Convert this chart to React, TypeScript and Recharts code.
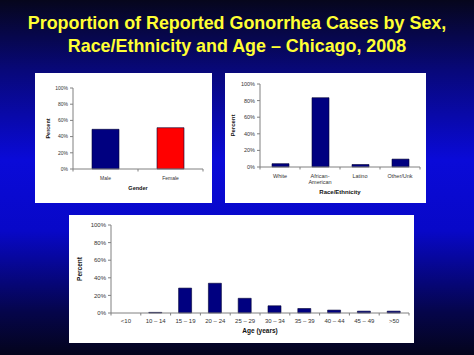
import React from 'react'
import { BarChart, Bar, XAxis, YAxis, Cell } from 'recharts'

const genderCats = ['Male', 'Female']
const genderPct = [49, 51]
const genderColors = ['#000080', '#ff0000']

const raceCats = ['White', 'African-American', 'Latino', 'Other/Unk']
const racePct = [4, 83.5, 3, 9.5]

const ageCats = ['<10', '10 – 14', '15 – 19', '20 – 24', '25 – 29', '30 – 34', '35 – 39', '40 – 44', '45 – 49', '>50']
const agePct = [0, 0.7, 28.3, 33.8, 16.7, 8.2, 5.1, 3.3, 2.1, 2.1]

const pctTicks = [0, 20, 40, 60, 80, 100]

const FONT = '"Liberation Sans", Arial, sans-serif'

interface PanelProps {
  cats: string[]
  values: number[]
  colors?: string[]
  x: number
  y: number
  w: number
  h: number
  top: number
  right: number
  bottom: number
  yWidth: number
  fontSize: number
  barSize: number
  xTitle: string
  xTitleDy: number
  tickDy: number
  yTitleX: number
}

// category label, plus Excel-style tick marks on the category boundaries
function MultiTick(props: any) {
  const { x, y, payload, fontSize, dy, step, index, count } = props
  const label: string = payload.value
  const lines = label.includes('-') && !label.includes(' ')
    ? [label.slice(0, label.indexOf('-') + 1), label.slice(label.indexOf('-') + 1)]
    : [label]
  const axisY = y - 8
  return (
    <g>
      <line x1={x - step / 2} x2={x - step / 2} y1={axisY} y2={axisY + 2.5} stroke="#808080" strokeWidth={1} />
      {index === count - 1 && (
        <line x1={x + step / 2} x2={x + step / 2} y1={axisY} y2={axisY + 2.5} stroke="#808080" strokeWidth={1} />
      )}
      <text x={x} y={y + dy} textAnchor="middle" fontSize={fontSize} fill="#333" fontFamily={FONT}>
        {lines.map((l, i) => (
          <tspan key={i} x={x} dy={i === 0 ? 0 : fontSize * 1.15}>{l}</tspan>
        ))}
      </text>
    </g>
  )
}

function Panel(p: PanelProps) {
  const data = p.cats.map((c, i) => ({ cat: c, pct: p.values[i] }))
  const plotBottom = p.h - p.bottom
  const midY = (p.top + plotBottom) / 2
  const step = (p.w - p.yWidth - p.right) / p.cats.length
  return (
    <div style={{ position: 'absolute', left: p.x, top: p.y, width: p.w, height: p.h, background: '#fff' }}>
      <BarChart width={p.w} height={p.h} data={data} margin={{ top: p.top, right: p.right, bottom: 0, left: 0 }} barSize={p.barSize}>
        <XAxis
          dataKey="cat"
          axisLine={{ stroke: '#808080' }}
          tickLine={false}
          interval={0}
          tick={<MultiTick fontSize={p.fontSize} dy={p.tickDy} step={step} count={p.cats.length} />}
          height={p.bottom}
        />
        <YAxis
          domain={[0, 100]}
          ticks={pctTicks}
          interval={0}
          tickFormatter={(v: number) => v + '%'}
          width={p.yWidth}
          axisLine={{ stroke: '#808080' }}
          tickLine={{ stroke: '#808080' }}
          tickSize={3}
          tick={{ fontSize: p.fontSize, fill: '#333', fontFamily: FONT }}
        />
        <Bar dataKey="pct" fill="#000080" stroke="#000033" strokeWidth={0.6} isAnimationActive={false}>
          {data.map((_, i) => (
            <Cell key={i} fill={p.colors ? p.colors[i] : '#000080'} />
          ))}
        </Bar>
        <text
          x={p.yTitleX}
          y={midY}
          transform={`rotate(-90 ${p.yTitleX} ${midY})`}
          textAnchor="middle"
          fontSize={p.fontSize + 0.5}
          fontWeight="bold"
          fill="#111"
          fontFamily={FONT}
        >
          Percent
        </text>
        <text
          x={p.yWidth + (p.w - p.yWidth - p.right) / 2}
          y={plotBottom + p.xTitleDy}
          textAnchor="middle"
          fontSize={p.fontSize + 0.5}
          fontWeight="bold"
          fill="#111"
          fontFamily={FONT}
        >
          {p.xTitle}
        </text>
      </BarChart>
    </div>
  )
}

export default function App() {
  return (
    <div
      style={{
        position: 'absolute',
        left: 0,
        top: 0,
        width: 474,
        height: 355,
        overflow: 'hidden',
        background: 'linear-gradient(180deg, #06061c 0%, #08087a 20%, #0a0ad8 45%, #0808c8 65%, #05054a 88%, #04041c 100%)',
        fontFamily: FONT,
      }}
    >
      <div
        style={{
          position: 'absolute',
          left: 0,
          top: 12,
          width: 474,
          textAlign: 'center',
          color: '#ffff33',
          fontWeight: 'bold',
          fontSize: 17.9,
          lineHeight: '23px',
        }}
      >
        Proportion of Reported Gonorrhea Cases by Sex,
        <br />
        Race/Ethnicity and Age – Chicago, 2008
      </div>
      <Panel
        cats={genderCats}
        values={genderPct}
        colors={genderColors}
        x={35}
        y={73}
        w={177}
        h={130}
        top={15}
        right={9}
        bottom={34}
        yWidth={38}
        fontSize={5}
        barSize={27}
        xTitle="Gender"
        xTitleDy={21}
        tickDy={3}
        yTitleX={15}
      />
      <Panel
        cats={raceCats}
        values={racePct}
        x={225}
        y={73}
        w={201}
        h={130}
        top={11}
        right={6}
        bottom={36}
        yWidth={35}
        fontSize={5.5}
        barSize={17}
        xTitle="Race/Ethnicity"
        xTitleDy={27}
        tickDy={3}
        yTitleX={10}
      />
      <Panel
        cats={ageCats}
        values={agePct}
        x={69}
        y={215}
        w={345}
        h={128}
        top={10}
        right={5}
        bottom={30}
        yWidth={42}
        fontSize={6}
        barSize={13}
        xTitle="Age (years)"
        xTitleDy={20}
        tickDy={2}
        yTitleX={13}
      />
    </div>
  )
}
